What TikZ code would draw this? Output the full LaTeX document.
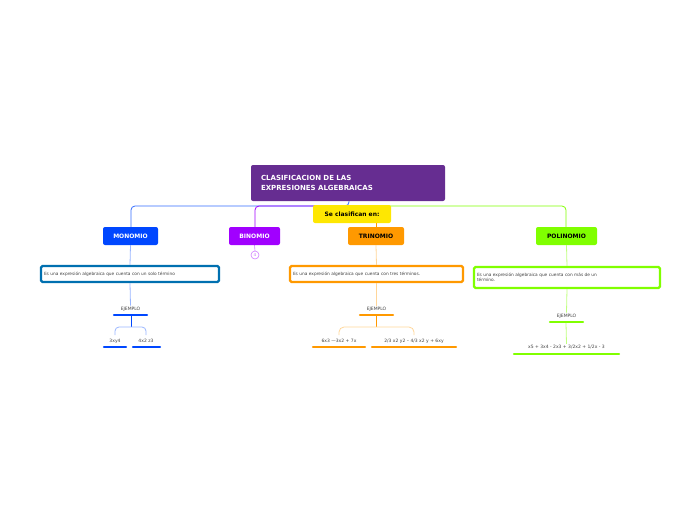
\documentclass[tikz,border=0pt]{standalone}
\usepackage{fontspec}
\setmainfont{DejaVu Sans}
\begin{document}
\begin{tikzpicture}[x=1pt,y=-1pt,
 hd/.style={rounded corners=2pt,font=\fontsize{6}{7}\selectfont\bfseries,inner sep=0pt,minimum height=18pt},
 ds/.style={draw,line width=2.2pt,rounded corners=1.5pt,fill=white,font=\fontsize{4.3}{5}\selectfont,text=black!75,inner sep=0pt,align=left},
 tx/.style={font=\fontsize{4.5}{5}\selectfont,text=black!75,inner sep=1pt},
 ul/.style={line width=2.2pt,line cap=round}]
\useasboundingbox (0,0) rectangle (697,520);
\definecolor{tpurple}{HTML}{662D91}
\definecolor{mblue}{HTML}{0047FF}
\definecolor{bpur}{HTML}{A100FF}
\definecolor{torg}{HTML}{FF9900}
\definecolor{pgrn}{HTML}{80FF00}
\definecolor{dblue}{HTML}{0070B0}
% connectors from title
\coordinate (hub) at (349,206);
\draw[mblue!80,line width=0.8pt,rounded corners=4pt] (349,201) -- (349,206) -- (131,206) -- (131,227);
\draw[bpur,line width=0.8pt,rounded corners=4pt] (349,206) -- (255,206) -- (255,227);
\draw[pgrn,line width=0.8pt,rounded corners=4pt] (349,206) -- (566,206) -- (566,227);
\draw[torg,line width=0.8pt] (376,206) -- (376,227);
\node[hd,fill=tpurple,text=white,minimum width=194pt,minimum height=36pt,align=left,text width=174pt,font=\fontsize{7}{10}\selectfont\bfseries] (title) at (348,183) {CLASIFICACION DE LAS\\EXPRESIONES ALGEBRAICAS};
\node[hd,fill=yellow!90!orange,minimum width=78pt,text=black] (sc) at (352,214) {Se clasifican en:};
\node[hd,fill=mblue,text=white,minimum width=55pt] (mono) at (130.5,236) {MONOMIO};
\node[hd,fill=bpur,text=white,minimum width=51pt] (bino) at (254.5,236) {BINOMIO};
\node[hd,fill=torg,text=black,minimum width=56pt] (tri) at (376,236) {TRINOMIO};
\node[hd,fill=pgrn,text=black,minimum width=61pt] (poli) at (566.5,236) {POLINOMIO};
% binomio badge
\draw[bpur!50,line width=0.6pt] (bino.south) -- (255,251);
\node[circle,draw=bpur!50,line width=0.6pt,inner sep=0pt,minimum size=8pt,font=\fontsize{4}{4}\selectfont,text=bpur!60] (b4) at (255,255) {4};
% descriptions
\node[ds,draw=dblue,minimum width=178pt,minimum height=16pt,text width=172pt] (md) at (130,274) {Es una expresión algebraica que cuenta con un solo término};
\node[ds,draw=torg,minimum width=173pt,minimum height=16pt,text width=167pt] (td) at (376.5,274) {Es una expresión algebraica que cuenta con tres términos.};
\node[ds,draw=pgrn,minimum width=186pt,minimum height=21pt,text width=180pt] (pd) at (567,277.5) {Es una expresión algebraica que cuenta con más de un\\término.};
\draw[mblue!40,line width=0.8pt] (mono.south) -- (md.north);
\draw[torg!40,line width=0.8pt] (tri.south) -- (td.north);
\draw[pgrn!50,line width=0.8pt] (poli.south) -- (pd.north);
% ejemplo
\node[tx] (me) at (130.5,309) {EJEMPLO};
\node[tx] (te) at (376.5,309) {EJEMPLO};
\node[tx] (pe) at (566.5,316) {EJEMPLO};
\draw[ul,mblue] (114,315) -- (147,315);
\draw[ul,torg] (360,315) -- (393,315);
\draw[ul,pgrn] (550,322) -- (583,322);
\draw[mblue!40,line width=0.8pt] (md.south) -- (me.north);
\draw[torg!40,line width=0.8pt] (td.south) -- (te.north);
\draw[pgrn!50,line width=0.8pt] (pd.south) -- (pe.north);
% examples
\node[tx] (m1) at (115,341) {3xy4};
\node[tx] (m2) at (146,341) {4x2 z3};
\node[tx] (t1) at (339,341) {6x3 —3x2 + 7x};
\node[tx] (t2) at (414,341) {2/3 x2 y2 – 4/3 x2 y + 6xy};
\node[tx] (p1) at (566.5,347) {x5 + 3x4 - 2x3 + 3/2x2 + 1/2x - 3};
\draw[ul,mblue] (104,347) -- (126,347);
\draw[ul,mblue] (133,347) -- (160,347);
\draw[ul,torg] (313,347) -- (365,347);
\draw[ul,torg] (372,347) -- (456,347);
\draw[ul,pgrn] (514,354) -- (619,354);
\draw[mblue,line width=0.8pt] (131,316) -- (131,327);
\draw[mblue!40,line width=0.8pt,rounded corners=4pt] (115,335) -- (115,327) -- (146,327) -- (146,335);
\draw[torg,line width=0.8pt] (376,316) -- (376,327);
\draw[torg!40,line width=0.8pt,rounded corners=5pt] (339,335) -- (339,327) -- (414,327) -- (414,335);
\draw[pgrn!50,line width=0.8pt] (566,323) -- (p1.north);
\end{tikzpicture}
\end{document}
